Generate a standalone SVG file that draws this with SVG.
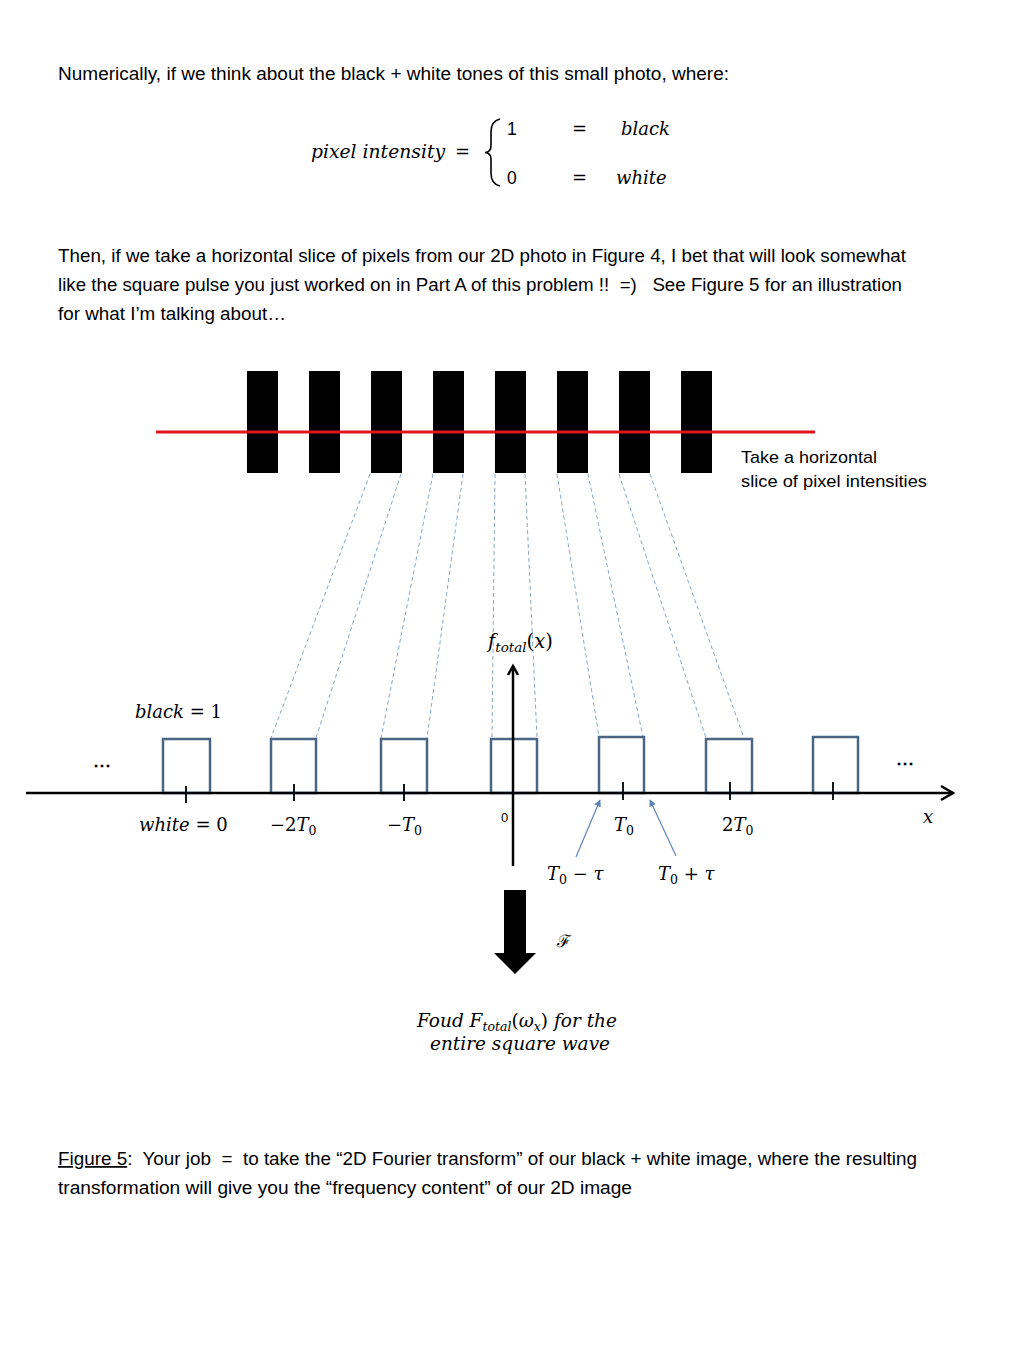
<svg xmlns="http://www.w3.org/2000/svg" width="1014" height="1352" viewBox="0 0 1014 1352">
<defs>
<style>
.body{font-family:"Liberation Sans",Arial,sans-serif;font-size:17.5px;fill:#000}
.side{font-family:"Liberation Sans",Arial,sans-serif;font-size:17px;fill:#000}
.m{font-family:"DejaVu Serif","Liberation Serif",serif;font-style:italic;font-size:18px;fill:#000}
.mu{font-family:"DejaVu Serif","Liberation Serif",serif;font-style:normal;font-size:18px;fill:#000}
.sub{font-size:12.5px}
.big{font-size:19.5px}
.bigsub{font-size:13.5px}
.bar{fill:#000}
.box{fill:none;stroke:#4b6584;stroke-width:2.5}
.dash{stroke:#8aa5c4;stroke-width:1;stroke-dasharray:4 3;fill:none}
.axis{stroke:#000;stroke-width:2.5;fill:none}
.tick{stroke:#000;stroke-width:1.8}
.blue{stroke:#5f84b8;stroke-width:1.2;fill:none}
</style>
<marker id="bh" viewBox="0 0 10 10" refX="9" refY="5" markerWidth="7" markerHeight="7" orient="auto" markerUnits="userSpaceOnUse">
<path d="M0,0 L10,5 L0,10 z" fill="#5f84b8"/>
</marker>
</defs>
<rect width="1014" height="1352" fill="#fff"/>

<g id="intro-text">
<text class="body" x="58" y="80" textLength="671" lengthAdjust="spacingAndGlyphs">Numerically, if we think about the black + white tones of this small photo, where:</text>
</g>

<g id="equation">
<text class="m" x="311" y="158" textLength="134" lengthAdjust="spacingAndGlyphs">pixel intensity</text>
<text class="mu" x="455" y="158">=</text>
<path d="M500,119 Q491,121 491,132 L491,146 Q491,152 485,152.5 Q491,153 491,159 L491,173 Q491,184 500,186" fill="none" stroke="#000" stroke-width="1.6"/>
<text class="body" x="507" y="135">1</text>
<text class="body" x="507" y="184">0</text>
<text class="mu" x="572" y="135">=</text>
<text class="mu" x="572" y="184">=</text>
<text class="m" x="621" y="135">black</text>
<text class="m" x="616" y="184">white</text>
</g>

<g id="paragraph">
<text class="body" x="58" y="262" textLength="848" lengthAdjust="spacingAndGlyphs">Then, if we take a horizontal slice of pixels from our 2D photo in Figure 4, I bet that will look somewhat</text>
<text class="body" x="58" y="291" textLength="844" lengthAdjust="spacingAndGlyphs" xml:space="preserve">like the square pulse you just worked on in Part A of this problem !!  =)   See Figure 5 for an illustration</text>
<text class="body" x="58" y="320" textLength="228" lengthAdjust="spacingAndGlyphs">for what I’m talking about…</text>
</g>

<g id="photo-bars">
<rect class="bar" x="247" y="371" width="31" height="102"/>
<rect class="bar" x="309" y="371" width="31" height="102"/>
<rect class="bar" x="371" y="371" width="31" height="102"/>
<rect class="bar" x="433" y="371" width="31" height="102"/>
<rect class="bar" x="495" y="371" width="31" height="102"/>
<rect class="bar" x="557" y="371" width="31" height="102"/>
<rect class="bar" x="619" y="371" width="31" height="102"/>
<rect class="bar" x="681" y="371" width="31" height="102"/>
</g>

<g id="slice-line">
<line x1="156" y1="432" x2="815" y2="432" stroke="#e0141a" stroke-width="3.2"/>
</g>

<g id="slice-label">
<text class="side" x="741" y="463" textLength="136" lengthAdjust="spacingAndGlyphs">Take a horizontal</text>
<text class="side" x="741" y="487" textLength="186" lengthAdjust="spacingAndGlyphs">slice of pixel intensities</text>
</g>

<g id="connectors">
<line class="dash" x1="370" y1="474" x2="271" y2="738"/>
<line class="dash" x1="401" y1="474" x2="316" y2="738"/>
<line class="dash" x1="433" y1="474" x2="381" y2="738"/>
<line class="dash" x1="463" y1="474" x2="427" y2="738"/>
<line class="dash" x1="495" y1="474" x2="492" y2="738"/>
<line class="dash" x1="525" y1="474" x2="537" y2="738"/>
<line class="dash" x1="557" y1="474" x2="599" y2="737"/>
<line class="dash" x1="588" y1="474" x2="643" y2="737"/>
<line class="dash" x1="619" y1="474" x2="706" y2="738"/>
<line class="dash" x1="650" y1="474" x2="744" y2="738"/>
<line class="blue" x1="576" y1="857" x2="600" y2="800" marker-end="url(#bh)"/>
<line class="blue" x1="676" y1="856" x2="650" y2="800" marker-end="url(#bh)"/>
</g>

<g id="pulses">
<rect class="box" x="163" y="739" width="47" height="54"/>
<rect class="box" x="271" y="739" width="45" height="54"/>
<rect class="box" x="381" y="739" width="46" height="54"/>
<rect class="box" x="491" y="739" width="46" height="54"/>
<rect class="box" x="599" y="737" width="45" height="56"/>
<rect class="box" x="706" y="739" width="46" height="54"/>
<rect class="box" x="813" y="737" width="45" height="56"/>
</g>

<g id="axes">
<line class="axis" x1="26" y1="793" x2="953" y2="793"/>
<path class="axis" d="M941,786 L953,793 L941,800" stroke-width="2.2"/>
<line class="axis" x1="513" y1="866" x2="513" y2="666"/>
<path class="axis" d="M508,675 L513,666 L518,675" stroke-width="2"/>
<line class="tick" x1="186" y1="786" x2="186" y2="803"/>
<line class="tick" x1="294" y1="784" x2="294" y2="801"/>
<line class="tick" x1="404" y1="784" x2="404" y2="801"/>
<line class="tick" x1="623" y1="782" x2="623" y2="800"/>
<line class="tick" x1="730" y1="782" x2="730" y2="800"/>
<line class="tick" x1="833" y1="782" x2="833" y2="800"/>
</g>

<g id="axis-labels">
<text class="m big" x="488" y="648">f<tspan class="bigsub" dy="4">total</tspan><tspan class="mu big" dy="-4">(</tspan><tspan>x</tspan><tspan class="mu big">)</tspan></text>
<text class="m" x="135" y="718">black <tspan class="mu">= 1</tspan></text>
<text class="m" x="139" y="831">white <tspan class="mu">= 0</tspan></text>
<text class="m" x="270" y="831"><tspan class="mu">−2</tspan>T<tspan class="sub mu" dy="4">0</tspan></text>
<text class="m" x="387" y="831"><tspan class="mu">−</tspan>T<tspan class="sub mu" dy="4">0</tspan></text>
<text x="501" y="822" style="font-family:'Liberation Sans',Arial,sans-serif;font-size:13px">0</text>
<text class="m" x="614" y="831">T<tspan class="sub mu" dy="4">0</tspan></text>
<text class="m" x="722" y="831"><tspan class="mu">2</tspan>T<tspan class="sub mu" dy="4">0</tspan></text>
<text class="m" x="923" y="823">x</text>
<text class="mu" x="93" y="771" font-weight="bold">⋯</text>
<text class="mu" x="896" y="769" font-weight="bold">⋯</text>
<text class="m" x="547" y="880">T<tspan class="sub mu" dy="4">0</tspan><tspan class="mu" dy="-4"> − </tspan>τ</text>
<text class="m" x="658" y="880">T<tspan class="sub mu" dy="4">0</tspan><tspan class="mu" dy="-4"> + </tspan>τ</text>
</g>

<g id="transform-arrow">
<polygon points="504,890 526,890 526,953 536,953 515,974 494,953 504,953" fill="#000"/>
<text x="557" y="947" style="font-family:'DejaVu Serif',serif;font-size:17px">ℱ</text>
</g>

<g id="result-label">
<text class="m" x="517" y="1027" text-anchor="middle" style="font-size:18.5px">Foud F<tspan class="sub" dy="4">total</tspan><tspan class="mu" style="font-size:18.5px" dy="-4">(</tspan>ω<tspan class="sub" dy="4">x</tspan><tspan class="mu" style="font-size:18.5px" dy="-4">)</tspan> for the</text>
<text class="m" x="520" y="1050" text-anchor="middle" style="font-size:18.5px">entire square wave</text>
</g>

<g id="caption">
<text class="body" x="58" y="1165" textLength="859" lengthAdjust="spacingAndGlyphs" xml:space="preserve"><tspan text-decoration="underline">Figure 5</tspan>:  Your job  =  to take the “2D Fourier transform” of our black + white image, where the resulting</text>
<text class="body" x="58" y="1194" textLength="574" lengthAdjust="spacingAndGlyphs">transformation will give you the “frequency content” of our 2D image</text>
</g>
</svg>
